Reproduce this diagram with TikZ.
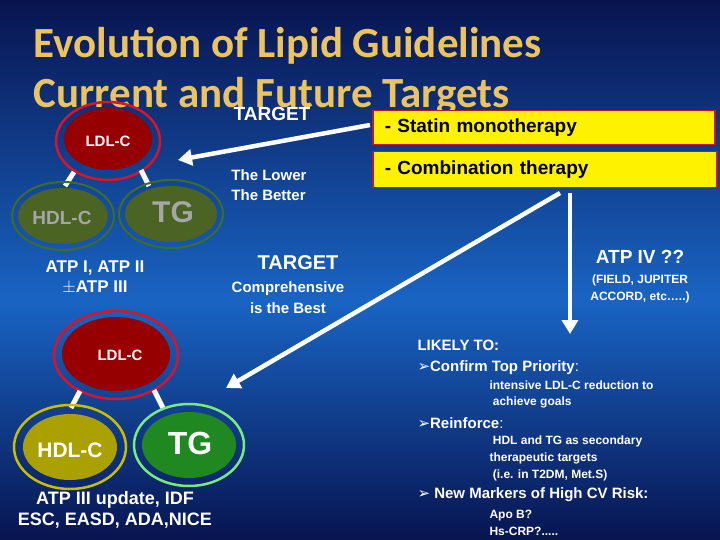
\documentclass[tikz,border=0pt]{standalone}
\usepackage{fontspec}
\setmainfont{Liberation Sans}
\newfontfamily\titlefont{Carlito}
\newfontfamily\symfont{DejaVu Sans}
\usetikzlibrary{arrows.meta}
\definecolor{navy}{RGB}{8,20,80}
\definecolor{midblue}{RGB}{25,100,195}
\definecolor{gold}{RGB}{235,195,95}
\definecolor{darkred}{RGB}{150,0,0}
\definecolor{ringred}{RGB}{215,20,40}
\definecolor{olive}{RGB}{75,100,35}
\definecolor{oliveRing}{RGB}{60,110,40}
\definecolor{yel}{RGB}{200,190,0}
\definecolor{grn}{RGB}{40,170,40}
\definecolor{grnRing}{RGB}{120,235,120}
\definecolor{boxred}{RGB}{200,20,20}
\newcommand{\bul}{{\symfont\mdseries ➢}}
\begin{document}
\begin{tikzpicture}[x=1pt,y=-1pt,
  wt/.style={text=white,font=\bfseries,align=center},
  link/.style={white,line width=5pt},
  arr/.style={white,line width=4.5pt,-{Triangle[length=14pt,width=16pt]}},
  tbox/.style={draw=boxred,line width=1.5pt,fill=yellow,anchor=north west,inner sep=0pt,font=\bfseries\fontsize{19}{22}\selectfont,text=black,align=left}]
\useasboundingbox (0,0) rectangle (720,540);
\shade[top color=navy,bottom color=midblue] (0,0) rectangle (720,300);
\shade[top color=midblue,bottom color=navy] (0,300) rectangle (720,540);
% title
\node[anchor=west,text=gold,font=\titlefont\bfseries\fontsize{43}{46}\selectfont] (t1) at (30,46) {Evolution of Lipid Guidelines};
\node[anchor=west,text=gold,font=\titlefont\bfseries\fontsize{43}{46}\selectfont] (t2) at (30,96) {Current and Future Targets};
% top ellipse group
\draw[ringred,line width=2.5pt] (108,141) ellipse (52 and 39);
\fill[darkred] (108,139) ellipse (44 and 31);
\node[wt,font=\bfseries\fontsize{15}{18}\selectfont] (l1) at (108,141) {LDL-C};
\draw[link] (74,172) -- (65,186);
\draw[link] (141,170) -- (149,186);
\draw[oliveRing,line width=2pt] (63,216) ellipse (51 and 34);
\fill[olive] (63,216) ellipse (45 and 28);
\node[font=\bfseries\fontsize{19}{22}\selectfont,text=gray!70] (h1) at (62,218) {HDL-C};
\draw[oliveRing,line width=2pt] (171,214) ellipse (52 and 34);
\fill[olive] (171,214) ellipse (46 and 28);
\node[font=\bfseries\fontsize{30}{34}\selectfont,text=gray!70] (g1) at (173,212) {TG};
\node[wt,font=\bfseries\fontsize{17}{20}\selectfont] (atp1) at (95,277) {ATP I, ATP II\\$\pm$ATP III};
% bottom ellipse group
\draw[ringred,line width=2.5pt] (116,355) ellipse (62 and 44);
\fill[darkred] (116,354) ellipse (54 and 37);
\node[wt,font=\bfseries\fontsize{15}{18}\selectfont] (l2) at (120,355) {LDL-C};
\draw[link] (80,391) -- (71,408);
\draw[link] (154,390) -- (163,408);
\draw[yel,line width=2.5pt] (70,447) ellipse (56 and 42);
\fill[yel!85!black] (70,447) ellipse (47 and 33);
\node[wt,font=\bfseries\fontsize{21}{24}\selectfont] (h2) at (70,450) {HDL-C};
\draw[grnRing,line width=2.5pt] (189,445) ellipse (55 and 41);
\fill[grn!80!black] (189,445) ellipse (47 and 33);
\node[wt,font=\bfseries\fontsize{32}{36}\selectfont] (g2) at (190,443) {TG};
\node[wt,font=\bfseries\fontsize{18}{21}\selectfont] (atp3) at (115,510) {ATP III update, IDF\\ESC, EASD, ADA,NICE};
% middle texts
\node[wt,font=\bfseries\fontsize{19}{22}\selectfont] (tg1) at (272,114) {TARGET};
\node[wt,font=\bfseries\fontsize{15}{20}\selectfont,align=left] (lb) at (269,185) {The Lower\\The Better};
\node[wt,font=\bfseries\fontsize{20}{23}\selectfont] (tg2) at (298,263) {TARGET};
\node[wt,font=\bfseries\fontsize{15}{21}\selectfont] (cb) at (288,298) {Comprehensive\\is the Best};
% boxes
\node[tbox,minimum width=342pt,minimum height=34pt,text width=330pt] (b1) at (372,110) {\hspace{6pt}- Statin monotherapy};
\node[tbox,minimum width=344pt,minimum height=36pt,text width=332pt] (b2) at (372,151) {\hspace{6pt}- Combination therapy};
\coordinate (s1) at (370,125);
\coordinate (e1) at (178,160);
\coordinate (s2) at (560,193);
\coordinate (e2) at (226,388);
\coordinate (s3) at (570,193);
\coordinate (e3) at (570,334);
\draw[arr] (s1) -- (e1);
\draw[arr] (s2) -- (e2);
\draw[arr] (s3) -- (e3);
\node[wt,font=\bfseries\fontsize{19}{22}\selectfont] (a4) at (640,257) {ATP IV ??};
\node[wt,font=\bfseries\fontsize{12}{17}\selectfont] (a4b) at (640,289) {(FIELD, JUPITER\\ACCORD, etc…..)};
% right list
\node[wt,anchor=west,font=\bfseries\fontsize{15}{18}\selectfont] (lk) at (414,345) {LIKELY TO:};
\node[wt,anchor=west,font=\bfseries\fontsize{15}{18}\selectfont] (c1) at (414,368) {\bul Confirm Top Priority\textmd{:}};
\node[wt,anchor=west,align=left,font=\bfseries\fontsize{12}{16}\selectfont] (c1b) at (486,394) {intensive LDL-C reduction to\\\ achieve goals};
\node[wt,anchor=west,font=\bfseries\fontsize{15}{18}\selectfont] (c2) at (414,423) {\bul Reinforce\textmd{:}};
\node[wt,anchor=west,align=left,font=\bfseries\fontsize{12}{17}\selectfont] (c2b) at (486,458) {\ HDL and TG as secondary\\therapeutic targets\\\ (i.e. in T2DM, Met.S)};
\node[wt,anchor=west,font=\bfseries\fontsize{15}{18}\selectfont] (c3) at (414,495) {\bul\ New Markers of High CV Risk:};
\node[wt,anchor=west,align=left,font=\bfseries\fontsize{12}{17}\selectfont] (c3b) at (486,523) {Apo B?\\Hs-CRP?.....};
\end{tikzpicture}
\end{document}
